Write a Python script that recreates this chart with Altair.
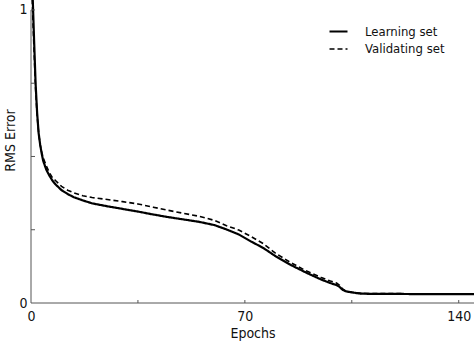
import altair as alt
import pandas as pd

# Learning set (solid)
learn_epochs = [0, 0.5, 1, 1.5, 2, 2.5, 3, 3.5, 4, 5, 6, 7, 8, 10, 12, 14, 17, 20, 25, 30, 35, 40, 45, 50, 55, 60, 64, 68, 72, 76, 80, 85, 90, 95, 98, 100, 101, 102, 103, 105, 108, 112, 120, 130, 140, 145]
learn_rms = [1.25, 1.06, 0.90, 0.75, 0.65, 0.58, 0.54, 0.51, 0.485, 0.455, 0.435, 0.418, 0.405, 0.385, 0.372, 0.361, 0.350, 0.340, 0.330, 0.321, 0.312, 0.302, 0.293, 0.285, 0.277, 0.266, 0.251, 0.234, 0.210, 0.188, 0.160, 0.130, 0.104, 0.080, 0.068, 0.061, 0.055, 0.045, 0.040, 0.036, 0.032, 0.031, 0.031, 0.030, 0.030, 0.030]

# Validating set (dashed)
valid_epochs = [0, 0.5, 1, 1.5, 2, 2.5, 3, 3.5, 4, 5, 6, 7, 8, 10, 12, 14, 17, 20, 25, 30, 35, 40, 45, 50, 55, 60, 64, 68, 72, 76, 80, 85, 90, 95, 98, 100, 101, 102, 103, 105, 108, 112, 120, 130, 140, 145]
valid_rms = [1.20, 1.00, 0.86, 0.73, 0.64, 0.58, 0.54, 0.515, 0.495, 0.468, 0.445, 0.428, 0.418, 0.398, 0.385, 0.376, 0.366, 0.360, 0.353, 0.346, 0.338, 0.327, 0.316, 0.306, 0.296, 0.282, 0.264, 0.249, 0.227, 0.203, 0.170, 0.138, 0.110, 0.087, 0.075, 0.068, 0.060, 0.048, 0.041, 0.037, 0.033, 0.032, 0.032, 0.031, 0.031, 0.031]

series_names = ["Learning set", "Validating set"]
x_tick_labels = [0, 70, 140]
y_tick_labels = [0, 1]
x_minor_ticks = [35, 70, 105, 140]
y_minor_ticks = [0.25, 0.5, 0.75, 1]

X_DOMAIN = [0, 145]
Y_DOMAIN = [0, 1.034]
FONT = "'Liberation Sans Narrow', 'DejaVu Sans Condensed', 'Roboto Condensed', 'Open Sans', sans-serif"
AXIS_COLOR = "#555555"

df = pd.concat([
    pd.DataFrame({"epoch": learn_epochs, "rms": learn_rms, "set": series_names[0]}),
    pd.DataFrame({"epoch": valid_epochs, "rms": valid_rms, "set": series_names[1]}),
])

xs = alt.Scale(domain=X_DOMAIN, nice=False, zero=False)
ys = alt.Scale(domain=Y_DOMAIN, nice=False, zero=False)

x_axis = alt.Axis(
    values=x_tick_labels, domain=False, ticks=False, grid=False, format="d",
    labelFlush=False, labelOverlap=False,
    labelPadding=6, labelFontSize=14, labelFont=FONT, labelColor="#111",
    title="Epochs", titleFont=FONT, titleFontSize=14, titleFontWeight="normal",
    titleColor="#111", titlePadding=3)
y_axis = alt.Axis(
    values=y_tick_labels, domain=False, ticks=False, grid=False, format="d",
    labelFlush=False, labelOverlap=False,
    labelPadding=4, labelFontSize=14, labelFont=FONT, labelColor="#111",
    title="RMS Error", titleFont=FONT, titleFontSize=14, titleFontWeight="normal",
    titleColor="#111", titleX=-21, titleY=140, titleAngle=-90, titleBaseline="middle")

lines = alt.Chart(df).mark_line(color="black", clip=True).encode(
    x=alt.X("epoch:Q", scale=xs, axis=x_axis, title="Epochs"),
    y=alt.Y("rms:Q", scale=ys, axis=y_axis, title="RMS Error"),
    strokeDash=alt.StrokeDash("set:N", scale=alt.Scale(domain=series_names, range=[[1, 0], [5, 3]]),
        legend=alt.Legend(title=None, orient="none", legendX=297, legendY=21,
                          symbolType="stroke", symbolSize=324, symbolStrokeColor="black",
                          symbolStrokeWidth=2, labelFont=FONT, labelFontSize=13,
                          labelColor="#111", labelOffset=16, rowPadding=0, padding=0)),
    strokeWidth=alt.StrokeWidth("set:N", scale=alt.Scale(domain=series_names, range=[2.2, 1.6]), legend=None),
    detail="set:N",
)

xaxis_df = pd.DataFrame({"epoch": [X_DOMAIN[0]], "epoch2": [X_DOMAIN[1]], "rms": [0]})
yaxis_df = pd.DataFrame({"epoch": [0], "rms": [0], "rms2": [1]})

x_line = alt.Chart(xaxis_df).mark_rule(color=AXIS_COLOR, strokeWidth=1).encode(
    x=alt.X("epoch:Q", scale=xs, axis=x_axis, title="Epochs"), x2="epoch2:Q",
    y=alt.Y("rms:Q", scale=ys, axis=y_axis, title="RMS Error"))
y_line = alt.Chart(yaxis_df).mark_rule(color=AXIS_COLOR, strokeWidth=1).encode(
    x=alt.X("epoch:Q", scale=xs, axis=x_axis, title="Epochs"),
    y=alt.Y("rms:Q", scale=ys, axis=y_axis, title="RMS Error"), y2="rms2:Q")

xt = alt.Chart(pd.DataFrame({"epoch": x_minor_ticks})).mark_rule(color=AXIS_COLOR, strokeWidth=1).encode(
    x=alt.X("epoch:Q", scale=xs, axis=x_axis, title="Epochs"), y=alt.value(303), y2=alt.value(300))
yt = alt.Chart(pd.DataFrame({"rms": y_minor_ticks})).mark_rule(color=AXIS_COLOR, strokeWidth=1).encode(
    y=alt.Y("rms:Q", scale=ys, axis=y_axis, title="RMS Error"), x=alt.value(0), x2=alt.value(4))

chart = alt.layer(lines, x_line, y_line, xt, yt).properties(
    width=443, height=303,
    padding={"left": 31, "top": 0, "right": 0, "bottom": 48},
    autosize=alt.AutoSizeParams(type="none"),
    background="white",
).configure_view(stroke=None)

chart.save("out.html", embed_options={"renderer": "svg", "actions": False})
